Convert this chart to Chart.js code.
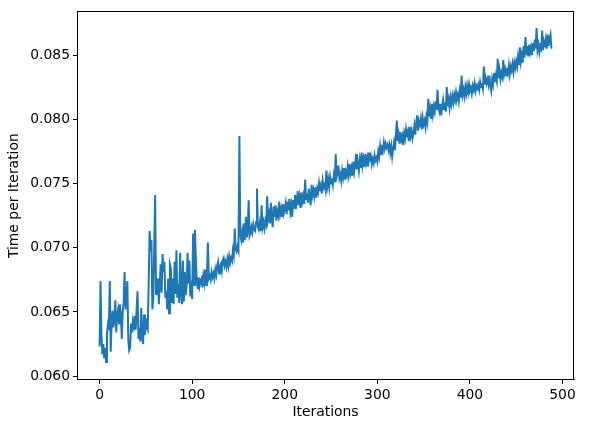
<!DOCTYPE html>
<html>
<head>
<meta charset="utf-8">
<script src="https://cdn.jsdelivr.net/npm/chart.js@4/dist/chart.umd.min.js"></script>
<style>
    body { margin: 0; background: #fff; }
    #wrap { width: 596px; height: 422px; }
</style>
</head>
<body>
<div id="wrap"><canvas id="chart" width="596" height="422"></canvas></div>
<script>
// Time per iteration, one value per iteration
const timePerIteration = [
    0.0623, 0.0674, 0.0631, 0.0617, 0.0625, 0.0614, 0.0622, 0.0611, 0.0633, 0.0640,
    0.0636, 0.0674, 0.0619, 0.0641, 0.0651, 0.0638, 0.0645, 0.0659, 0.0634, 0.0648,
    0.0652, 0.0641, 0.0656, 0.0647, 0.0629, 0.0650, 0.0658, 0.0681, 0.0652, 0.0661,
    0.0674, 0.0628, 0.0620, 0.0622, 0.0641, 0.0634, 0.0643, 0.0639, 0.0647, 0.0636,
    0.0652, 0.0666, 0.0629, 0.0633, 0.0627, 0.0653, 0.0631, 0.0625, 0.0648, 0.0632,
    0.0645, 0.0638, 0.0636, 0.0672, 0.0713, 0.0702, 0.0706, 0.0652, 0.0660, 0.0700,
    0.0741, 0.0664, 0.0668, 0.0676, 0.0656, 0.0672, 0.0687, 0.0665, 0.0695, 0.0681,
    0.0689, 0.0661, 0.0666, 0.0652, 0.0676, 0.0649, 0.0687, 0.0684, 0.0657, 0.0676,
    0.0656, 0.0689, 0.0664, 0.0698, 0.0661, 0.0672, 0.0657, 0.0696, 0.0665, 0.0656,
    0.0690, 0.0658, 0.0681, 0.0663, 0.0670, 0.0696, 0.0672, 0.0690, 0.0662, 0.0668,
    0.0660, 0.0711, 0.0671, 0.0714, 0.0691, 0.0674, 0.0668, 0.0677, 0.0670, 0.0674,
    0.0676, 0.0669, 0.0678, 0.0673, 0.0683, 0.0671, 0.0680, 0.0704, 0.0676, 0.0678,
    0.0675, 0.0681, 0.0677, 0.0680, 0.0676, 0.0683, 0.0679, 0.0686, 0.0689, 0.0680,
    0.0685, 0.0687, 0.0682, 0.0690, 0.0692, 0.0686, 0.0689, 0.0685, 0.0691, 0.0686,
    0.0693, 0.0688, 0.0692, 0.0690, 0.0698, 0.0694, 0.0715, 0.0699, 0.0697, 0.0701,
    0.0698, 0.0787, 0.0710, 0.0706, 0.0712, 0.0704, 0.0719, 0.0706, 0.0724, 0.0708,
    0.0713, 0.0737, 0.0709, 0.0711, 0.0716, 0.0712, 0.0718, 0.0714, 0.0713, 0.0720,
    0.0746, 0.0716, 0.0714, 0.0719, 0.0713, 0.0733, 0.0716, 0.0720, 0.0715, 0.0721,
    0.0718, 0.0740, 0.0722, 0.0726, 0.0719, 0.0735, 0.0722, 0.0716, 0.0732, 0.0724,
    0.0733, 0.0721, 0.0728, 0.0725, 0.0736, 0.0726, 0.0730, 0.0724, 0.0734, 0.0727,
    0.0731, 0.0735, 0.0726, 0.0736, 0.0729, 0.0738, 0.0728, 0.0733, 0.0724, 0.0737,
    0.0731, 0.0741, 0.0730, 0.0736, 0.0744, 0.0733, 0.0739, 0.0731, 0.0743, 0.0736,
    0.0740, 0.0734, 0.0753, 0.0738, 0.0742, 0.0735, 0.0746, 0.0740, 0.0733, 0.0749,
    0.0741, 0.0745, 0.0740, 0.0747, 0.0739, 0.0746, 0.0743, 0.0750, 0.0744, 0.0748,
    0.0742, 0.0752, 0.0747, 0.0749, 0.0745, 0.0760, 0.0748, 0.0753, 0.0747, 0.0755,
    0.0750, 0.0754, 0.0749, 0.0756, 0.0751, 0.0773, 0.0755, 0.0758, 0.0764, 0.0754,
    0.0757, 0.0752, 0.0760, 0.0755, 0.0762, 0.0753, 0.0759, 0.0756, 0.0763, 0.0757,
    0.0765, 0.0758, 0.0762, 0.0756, 0.0767, 0.0759, 0.0764, 0.0773, 0.0761, 0.0766,
    0.0760, 0.0768, 0.0762, 0.0774, 0.0764, 0.0769, 0.0763, 0.0773, 0.0766, 0.0770,
    0.0763, 0.0774, 0.0767, 0.0771, 0.0765, 0.0769, 0.0766, 0.0772, 0.0768, 0.0770,
    0.0767, 0.0775, 0.0771, 0.0779, 0.0773, 0.0780, 0.0776, 0.0782, 0.0777, 0.0781,
    0.0778, 0.0780, 0.0776, 0.0780, 0.0774, 0.0779, 0.0771, 0.0777, 0.0782, 0.0776,
    0.0787, 0.0799, 0.0783, 0.0788, 0.0781, 0.0790, 0.0784, 0.0787, 0.0780, 0.0789,
    0.0785, 0.0792, 0.0786, 0.0790, 0.0783, 0.0794, 0.0787, 0.0791, 0.0785, 0.0789,
    0.0795, 0.0788, 0.0797, 0.0803, 0.0791, 0.0798, 0.0794, 0.0800, 0.0792, 0.0801,
    0.0796, 0.0799, 0.0794, 0.0802, 0.0798, 0.0816, 0.0802, 0.0808, 0.0801, 0.0812,
    0.0804, 0.0810, 0.0806, 0.0814, 0.0807, 0.0823, 0.0809, 0.0806, 0.0812, 0.0803,
    0.0810, 0.0815, 0.0808, 0.0813, 0.0806, 0.0825, 0.0810, 0.0815, 0.0809, 0.0817,
    0.0812, 0.0818, 0.0813, 0.0819, 0.0815, 0.0821, 0.0816, 0.0819, 0.0814, 0.0822,
    0.0817, 0.0834, 0.0819, 0.0823, 0.0818, 0.0825, 0.0820, 0.0826, 0.0821, 0.0827,
    0.0822, 0.0824, 0.0820, 0.0826, 0.0823, 0.0828, 0.0822, 0.0826, 0.0824, 0.0827,
    0.0823, 0.0829, 0.0825, 0.0828, 0.0824, 0.0841, 0.0827, 0.0832, 0.0828, 0.0831,
    0.0827, 0.0834, 0.0826, 0.0822, 0.0831, 0.0827, 0.0836, 0.0829, 0.0834, 0.0830,
    0.0847, 0.0832, 0.0838, 0.0831, 0.0836, 0.0833, 0.0846, 0.0835, 0.0839, 0.0834,
    0.0840, 0.0836, 0.0842, 0.0835, 0.0841, 0.0838, 0.0843, 0.0837, 0.0844, 0.0840,
    0.0845, 0.0841, 0.0849, 0.0843, 0.0856, 0.0845, 0.0850, 0.0844, 0.0857, 0.0848,
    0.0864, 0.0850, 0.0857, 0.0849, 0.0858, 0.0852, 0.0856, 0.0850, 0.0859, 0.0853,
    0.0862, 0.0855, 0.0871, 0.0854, 0.0858, 0.0852, 0.0857, 0.0855, 0.0869, 0.0854,
    0.0860, 0.0856, 0.0862, 0.0855, 0.0866, 0.0857, 0.0863, 0.0866, 0.0855
];

// axis ticks
const xTicks = [0, 100, 200, 300, 400, 500];
const yTicks = [0.060, 0.065, 0.070, 0.075, 0.080, 0.085];

// x is just the iteration number
const points = timePerIteration.map((v, i) => ({ x: i, y: v }));

const tickFont = { family: 'DejaVu Sans', size: 13.9 };

// draw the full box around the plot area, like matplotlib
const frame = {
    id: 'frame',
    afterDraw(chart) {
        const a = chart.chartArea;
        const ctx = chart.ctx;
        ctx.save();
        ctx.strokeStyle = '#000';
        ctx.lineWidth = 1;
        ctx.strokeRect(Math.round(a.left) + 0.5, Math.round(a.top) + 0.5,
            Math.round(a.right - a.left) - 1, Math.round(a.bottom - a.top) - 1);
        ctx.restore();
    }
};

Chart.defaults.color = '#000';
Chart.defaults.font.family = 'DejaVu Sans';

new Chart(document.getElementById('chart').getContext('2d'), {
    type: 'line',
    data: {
        datasets: [{
            data: points,
            borderColor: '#1f77b4',
            borderWidth: 2,
            pointRadius: 0,
            tension: 0,
            fill: false
        }]
    },
    options: {
        responsive: false,
        devicePixelRatio: 1,
        animation: false,
        layout: { padding: { top: 9, right: 22, left: 0, bottom: 0 } },
        plugins: {
            legend: { display: false },
            tooltip: { enabled: false }
        },
        scales: {
            x: {
                type: 'linear',
                min: -24.4,
                max: 512.4,
                afterBuildTicks: (scale) => { scale.ticks = xTicks.map(v => ({ value: v })); },
                afterFit: (scale) => { scale.height = 42; },
                ticks: { font: tickFont, padding: 3, maxRotation: 0 },
                grid: { drawOnChartArea: false, tickLength: 4, color: '#000' },
                border: { color: '#000' },
                title: { display: true, text: 'Iterations', font: tickFont, padding: { top: 0, bottom: 1 } }
            },
            y: {
                min: 0.0597,
                max: 0.0884,
                afterBuildTicks: (scale) => { scale.ticks = yTicks.map(v => ({ value: v })); },
                afterFit: (scale) => { scale.width = 77; },
                ticks: { font: tickFont, padding: 3, callback: (v) => v.toFixed(3) },
                grid: { drawOnChartArea: false, tickLength: 4, color: '#000' },
                border: { color: '#000' },
                title: { display: true, text: 'Time per Iteration', font: tickFont, padding: { top: 6, bottom: 0 } }
            }
        }
    },
    plugins: [frame]
});
</script>
</body>
</html>
